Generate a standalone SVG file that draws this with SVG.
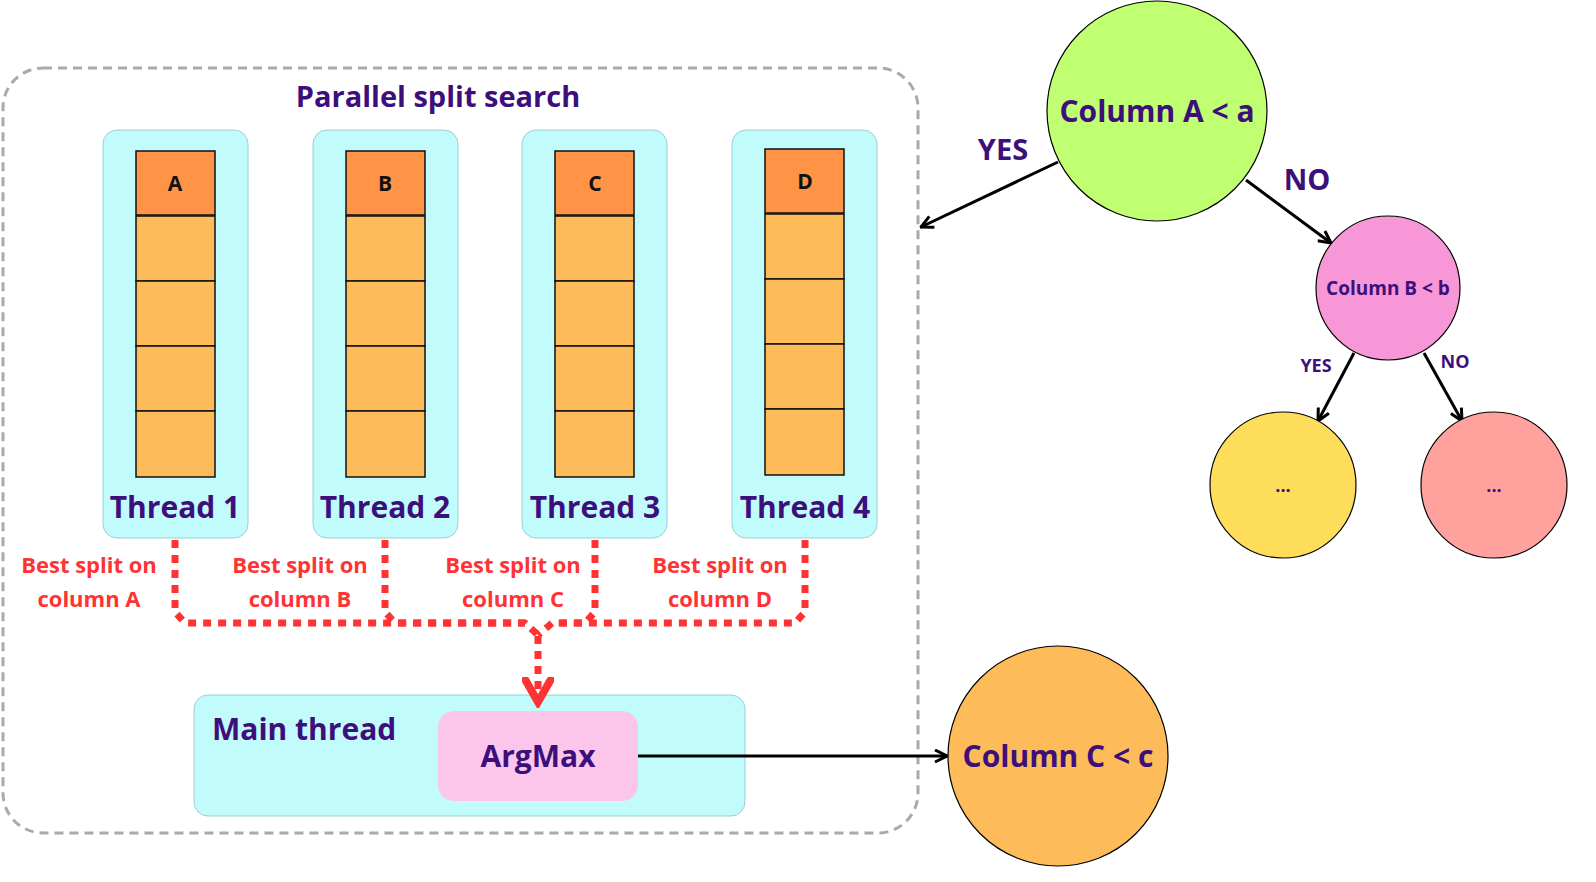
<svg xmlns="http://www.w3.org/2000/svg" width="1596" height="882" viewBox="0 0 1596 882">
<style>
text{font-family:"Open Sans","Noto Sans",sans-serif;font-weight:bold}
.p{fill:#3d0f7a}
.th{fill:#c1fbfc;stroke:#9ccfd0;stroke-width:1}
.hd{fill:#ff9447;stroke:#111;stroke-width:1.5}
.cl{fill:#fdbb5a;stroke:#111;stroke-width:1.5}
.r{fill:none;stroke:#ff3333;stroke-width:7;stroke-dasharray:8 7}
.rl{fill:#ff3333;font-size:22px;font-weight:bold}
.bk{stroke:#000;stroke-width:3;fill:none;marker-end:url(#ah)}
.cc{stroke:#000;stroke-width:1.2}
</style>
<defs>
<marker id="ah" viewBox="0 0 10 10" refX="9" refY="5" markerWidth="5" markerHeight="5" orient="auto"><path d="M1,1 L9,5 L1,9" fill="none" stroke="#000" stroke-width="2"/></marker>
<marker id="rh" viewBox="0 0 10 10" refX="8" refY="5" markerWidth="4.5" markerHeight="4.5" orient="auto"><path d="M1,1 L8,5 L1,9" fill="none" stroke="#ff3333" stroke-width="2.5" stroke-linecap="round"/></marker>
</defs>
<rect x="3" y="68" width="915" height="765" rx="40" fill="none" stroke="#aaa" stroke-width="3" stroke-dasharray="9 6"/>
<text x="438" y="107" text-anchor="middle" font-size="29" class="p">Parallel split search</text>
<g id="thread1"><rect class="th" x="103" y="130" width="145" height="408" rx="14"/><rect class="hd" x="136" y="151" width="79" height="64"/><rect class="cl" x="136" y="216" width="79" height="65"/><rect class="cl" x="136" y="281" width="79" height="65"/><rect class="cl" x="136" y="346" width="79" height="65"/><rect class="cl" x="136" y="411" width="79" height="66"/><text x="175" y="191" text-anchor="middle" font-size="21" fill="#111">A</text><text x="175" y="518" text-anchor="middle" font-size="30" class="p">Thread 1</text></g>
<g id="thread2"><rect class="th" x="313" y="130" width="145" height="408" rx="14"/><rect class="hd" x="346" y="151" width="79" height="64"/><rect class="cl" x="346" y="216" width="79" height="65"/><rect class="cl" x="346" y="281" width="79" height="65"/><rect class="cl" x="346" y="346" width="79" height="65"/><rect class="cl" x="346" y="411" width="79" height="66"/><text x="385" y="191" text-anchor="middle" font-size="21" fill="#111">B</text><text x="385" y="518" text-anchor="middle" font-size="30" class="p">Thread 2</text></g>
<g id="thread3"><rect class="th" x="522" y="130" width="145" height="408" rx="14"/><rect class="hd" x="555" y="151" width="79" height="64"/><rect class="cl" x="555" y="216" width="79" height="65"/><rect class="cl" x="555" y="281" width="79" height="65"/><rect class="cl" x="555" y="346" width="79" height="65"/><rect class="cl" x="555" y="411" width="79" height="66"/><text x="595" y="191" text-anchor="middle" font-size="21" fill="#111">C</text><text x="595" y="518" text-anchor="middle" font-size="30" class="p">Thread 3</text></g>
<g id="thread4"><rect class="th" x="732" y="130" width="145" height="408" rx="14"/><rect class="hd" x="765" y="149" width="79" height="64"/><rect class="cl" x="765" y="214" width="79" height="65"/><rect class="cl" x="765" y="279" width="79" height="65"/><rect class="cl" x="765" y="344" width="79" height="65"/><rect class="cl" x="765" y="409" width="79" height="66"/><text x="805" y="189" text-anchor="middle" font-size="21" fill="#111">D</text><text x="805" y="518" text-anchor="middle" font-size="30" class="p">Thread 4</text></g>
<g id="main"><rect x="194" y="695" width="551" height="121" rx="14" fill="#c1fbfc" stroke="#9ccfd0"/><text x="212" y="740" font-size="30" class="p">Main thread</text><rect x="438" y="711" width="200" height="90" rx="16" fill="#fcc6ec"/><text x="538" y="767" text-anchor="middle" font-size="30" class="p">ArgMax</text></g>
<g id="connectors">
<path class="r" d="M175,540 V612 L185,623 H525 L538,635"/>
<path class="r" d="M385,540 V612 L395,623 H525"/>
<path class="r" d="M595,540 V612 L585,623 H552 L538,635"/>
<path class="r" d="M805,540 V612 L795,623 H552"/>
<path class="r" d="M538,636 V702" stroke-dasharray="14 5" marker-end="url(#rh)"/>
<path class="bk" d="M1058,162 L921,227"/>
<path class="bk" d="M1246,180 L1331,243"/>
<path class="bk" d="M1354,353 L1318,421"/>
<path class="bk" d="M1424,353 L1462,421"/>
<path class="bk" d="M638,756 L947,756"/>
</g>
<text class="rl" x="89" y="573" text-anchor="middle">Best split on</text><text class="rl" x="89" y="607" text-anchor="middle">column A</text>
<text class="rl" x="300" y="573" text-anchor="middle">Best split on</text><text class="rl" x="300" y="607" text-anchor="middle">column B</text>
<text class="rl" x="513" y="573" text-anchor="middle">Best split on</text><text class="rl" x="513" y="607" text-anchor="middle">column C</text>
<text class="rl" x="720" y="573" text-anchor="middle">Best split on</text><text class="rl" x="720" y="607" text-anchor="middle">column D</text>
<g id="nodeA"><circle class="cc" cx="1157" cy="111" r="110" fill="#c1ff72"/><text x="1157" y="122" text-anchor="middle" font-size="30" class="p">Column A &lt; a</text></g>
<text x="1003" y="160" text-anchor="middle" font-size="29" class="p">YES</text>
<text x="1307" y="190" text-anchor="middle" font-size="29" class="p">NO</text>
<g id="nodeB"><circle class="cc" cx="1388" cy="288" r="72" fill="#f797d7"/><text x="1388" y="295" text-anchor="middle" font-size="19" class="p">Column B &lt; b</text></g>
<text x="1316" y="372" text-anchor="middle" font-size="18" class="p">YES</text>
<text x="1455" y="368" text-anchor="middle" font-size="18" class="p">NO</text>
<g id="nodeY"><circle class="cc" cx="1283" cy="485" r="73" fill="#fedd5a"/><text x="1283" y="492" text-anchor="middle" font-size="18" class="p">...</text></g>
<g id="nodeN"><circle class="cc" cx="1494" cy="485" r="73" fill="#ffa29e"/><text x="1494" y="492" text-anchor="middle" font-size="18" class="p">...</text></g>
<g id="nodeC"><circle class="cc" cx="1058" cy="756" r="110" fill="#fdbb5a"/><text x="1058" y="767" text-anchor="middle" font-size="30" class="p">Column C &lt; c</text></g>
</svg>
